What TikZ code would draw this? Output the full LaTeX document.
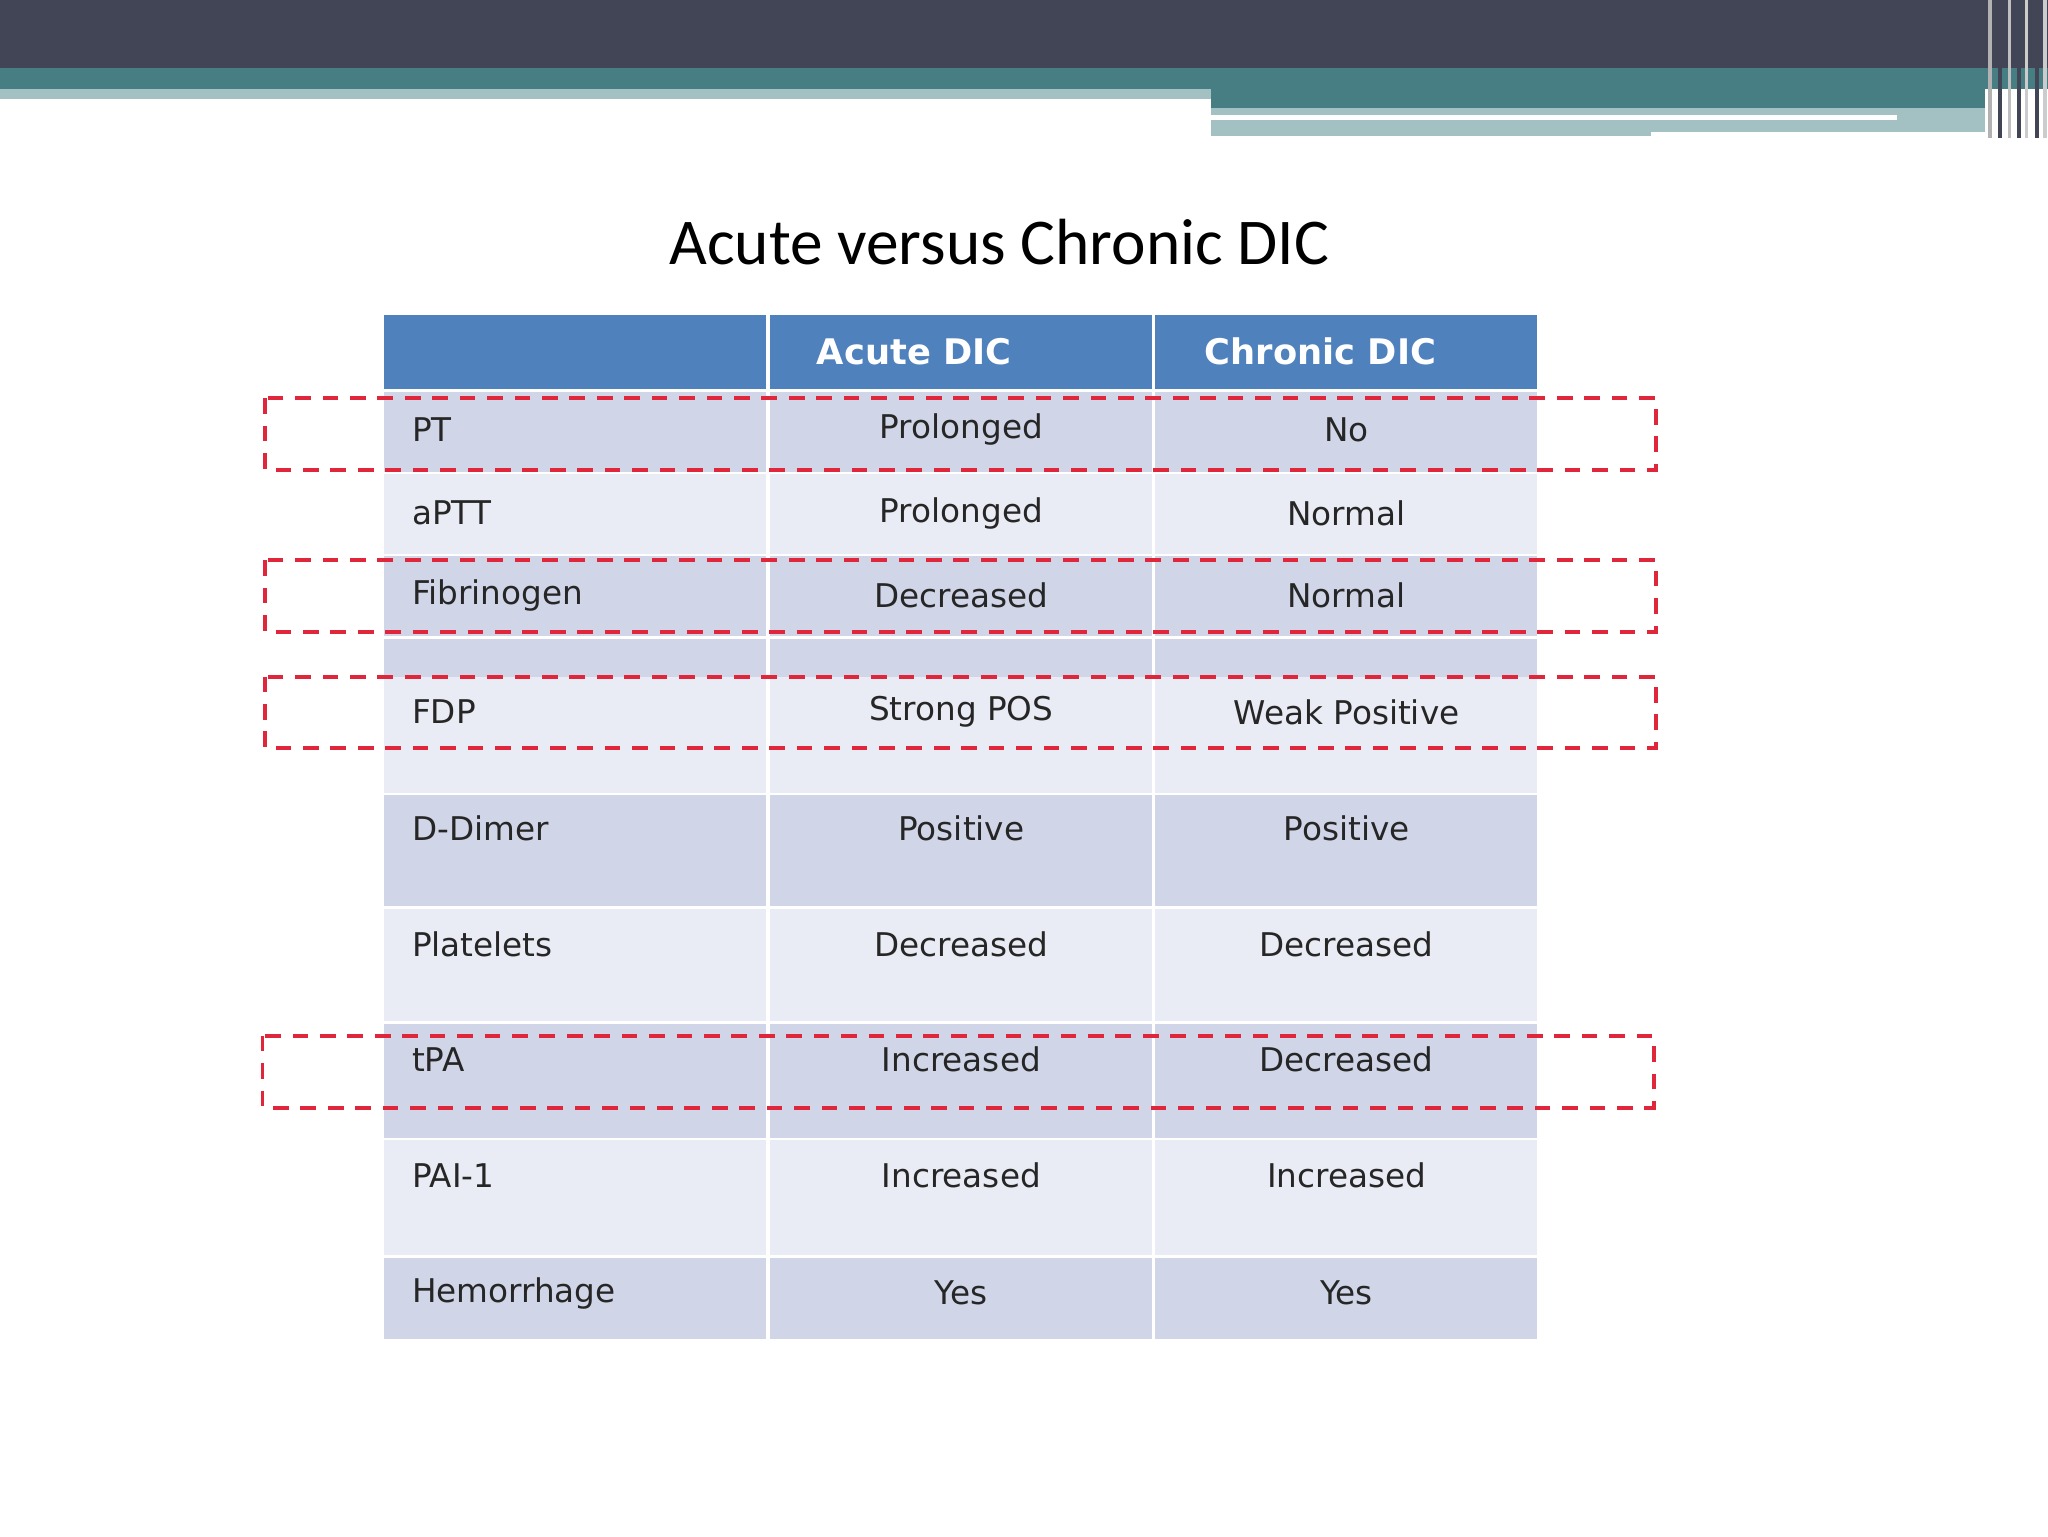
\documentclass[tikz,border=0pt]{standalone}
\usepackage{fontspec}
\setmainfont{DejaVu Sans}
\newfontfamily\titlefont{Carlito}
\definecolor{darkbar}{HTML}{424556}
\definecolor{tealbar}{HTML}{477E84}
\definecolor{lteal}{HTML}{A3C0C3}
\definecolor{hdr}{HTML}{4F81BD}
\definecolor{rowdark}{HTML}{D0D6E8}
\definecolor{rowlight}{HTML}{E9ECF4}
\definecolor{dashred}{HTML}{E0263A}
\begin{document}
\begin{tikzpicture}[x=1pt,y=-1pt,
  cell/.style={font=\fontsize{25}{30}\selectfont,text=black!85},
  hcell/.style={font=\fontsize{27}{32}\selectfont\bfseries,text=white},
  hbox/.style={draw=dashred,line width=3pt,dash pattern=on 12pt off 9pt}]
\useasboundingbox (0,0) rectangle (1568,1176);
\fill[white] (0,0) rectangle (1568,1176);
% banner
\fill[darkbar] (0,0) rectangle (1568,52);
\fill[lteal] (0,68) rectangle (927,76);
\fill[tealbar] (0,52) rectangle (1568,68);
\fill[tealbar] (927,68) rectangle (1520,83);
\fill[lteal] (927,83) rectangle (1520,104);
\fill[white] (927,88) rectangle (1452,92);
\fill[white] (1264,101) rectangle (1520,106);
\foreach \x/\c in {1522/gray!60,1530/darkbar,1537/gray!50,1544/darkbar,1550/gray!40,1558/darkbar,1564/gray!40}
  \fill[\c] (\x,0) rectangle ++(3,106);
% title
\node[font=\titlefont\fontsize{50}{60}\selectfont] (title) at (765,185) {Acute versus Chronic DIC};
% table backgrounds
\fill[hdr] (294,241) rectangle (1177,299);
\foreach \a/\b/\c in {299/362/rowdark,362/425/rowlight,425/488/rowdark,488/608/rowlight,608/695/rowdark,695/783/rowlight,783/872/rowdark,872/962/rowlight,962/1025/rowdark}
  \fill[\c] (294,\a) rectangle (1177,\b);
\fill[rowdark] (294,488) rectangle (1177,518);
\foreach \x in {588,883} \draw[white,line width=2.5pt] (\x,241) -- (\x,1025);
\foreach \y in {299,362,425,488,608,695,783,872,962} \draw[white,line width=2pt] (294,\y) -- (1177,\y);
% header
\node[hcell] (hA) at (700,269) {Acute DIC};
\node[hcell] (hC) at (1011,269) {Chronic DIC};
% rows
\foreach \n/\y/\l/\a/\c in {
 r1/329/PT/Prolonged/No,
 r2/393/aPTT/Prolonged/Normal,
 r3/456/Fibrinogen/Decreased/Normal,
 r4/545/FDP/Strong POS/Weak Positive,
 r5/634/D-Dimer/Positive/Positive,
 r6/723/Platelets/Decreased/Decreased,
 r7/811/tPA/Increased/Decreased,
 r8/900/PAI-1/Increased/Increased,
 r9/990/Hemorrhage/Yes/Yes}{
  \node[cell,anchor=west] (\n l) at (312,\y) {\l};
  \node[cell] (\n a) at (736,\y) {\a};
  \node[cell] (\n c) at (1031,\y) {\c};
}
% dashed highlight boxes
\draw[hbox] (203,305) rectangle (1268,360);
\draw[hbox] (203,429) rectangle (1268,484);
\draw[hbox] (203,518) rectangle (1268,573);
\draw[hbox] (201,793) rectangle (1266,848);
\end{tikzpicture}
\end{document}
